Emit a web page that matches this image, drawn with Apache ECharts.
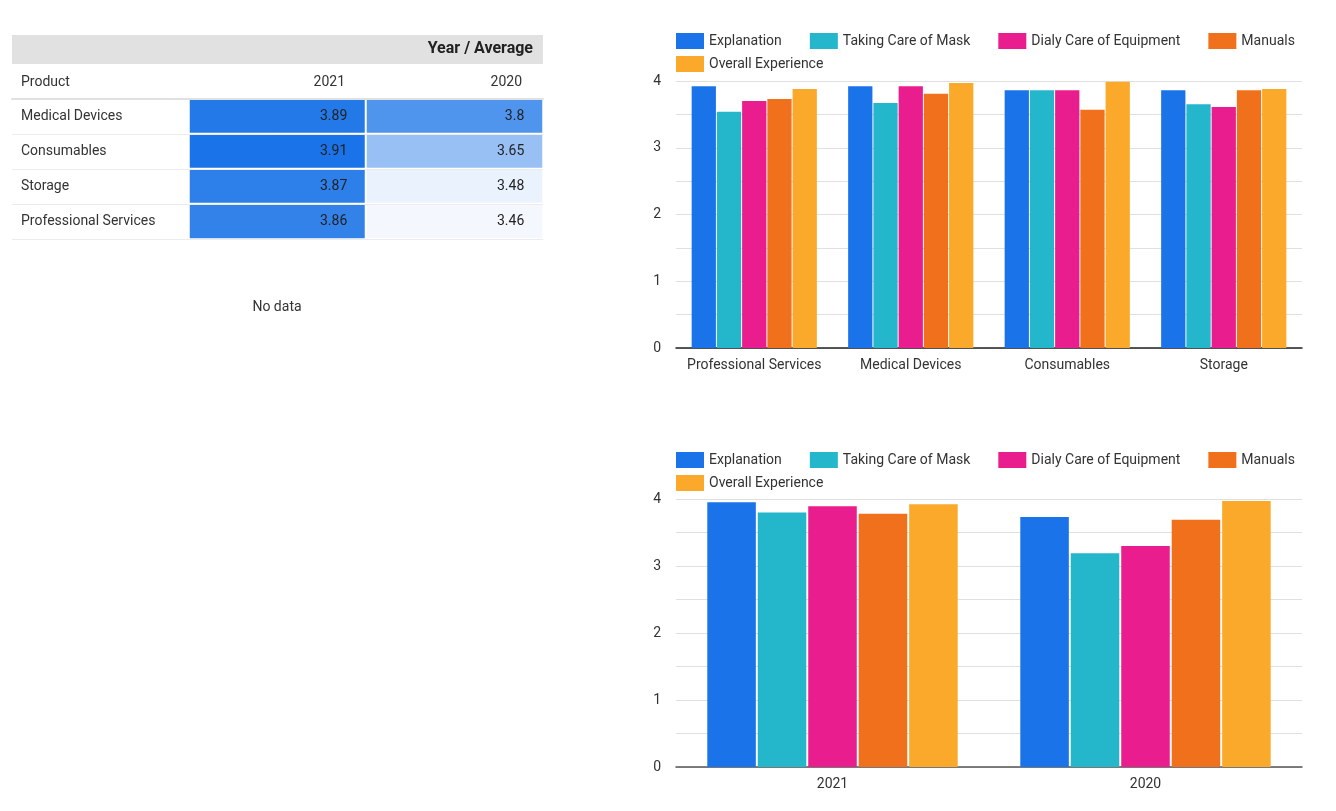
<!DOCTYPE html>
<html>
<head>
<meta charset="utf-8">
<script src="https://cdn.jsdelivr.net/npm/echarts@6/dist/echarts.min.js"></script>
<style>
  html, body { margin: 0; padding: 0; background: #fff; }
  #main { width: 1336px; height: 811px; }
</style>
</head>
<body>
<div id="main"></div>
<script>
// table (Year / Average)
const tableProducts = ['Medical Devices', 'Consumables', 'Storage', 'Professional Services'];
const tableColumns = ['Product', '2021', '2020'];
const avg2021 = [3.89, 3.91, 3.87, 3.86];
const avg2020 = [3.8, 3.65, 3.48, 3.46];

// bar charts
const seriesNames = ['Explanation', 'Taking Care of Mask', 'Dialy Care of Equipment', 'Manuals', 'Overall Experience'];
const seriesColors = ['#1a73e8', '#24b6cb', '#ea1d8f', '#f1701c', '#fba92a'];

const barProducts = ['Professional Services', 'Medical Devices', 'Consumables', 'Storage'];
const explanationByProduct = [3.92, 3.92, 3.86, 3.86];
const maskByProduct = [3.54, 3.67, 3.86, 3.65];
const equipmentByProduct = [3.70, 3.92, 3.86, 3.61];
const manualsByProduct = [3.73, 3.81, 3.57, 3.86];
const overallByProduct = [3.88, 3.97, 3.99, 3.88];

const barYears = ['2021', '2020'];
const explanationByYear = [3.95, 3.73];
const maskByYear = [3.80, 3.19];
const equipmentByYear = [3.89, 3.30];
const manualsByYear = [3.78, 3.69];
const overallByYear = [3.92, 3.97];

const byProduct = [explanationByProduct, maskByProduct, equipmentByProduct, manualsByProduct, overallByProduct];
const byYear = [explanationByYear, maskByYear, equipmentByYear, manualsByYear, overallByYear];

const font = 'Roboto';
const textColor = '#333';

// heatmap cells: [column, row, value]
const heatData = [];
tableProducts.forEach((p, i) => {
  heatData.push([1, i, avg2021[i]]);
  heatData.push([2, i, avg2020[i]]);
});

const barSeries = [];
seriesNames.forEach((name, i) => {
  barSeries.push({
    name: name,
    type: 'bar',
    xAxisIndex: 1,
    yAxisIndex: 1,
    data: byProduct[i],
    barGap: '4%',
    barCategoryGap: '20%',
    itemStyle: { color: seriesColors[i] },
  });
});
seriesNames.forEach((name, i) => {
  barSeries.push({
    name: name,
    type: 'bar',
    xAxisIndex: 2,
    yAxisIndex: 2,
    data: byYear[i],
    barGap: '4%',
    barCategoryGap: '20%',
    itemStyle: { color: seriesColors[i] },
  });
});

const legendBase = {
  left: 676,
  padding: 0,
  itemWidth: 28,
  itemHeight: 16,
  itemGap: 28,
  icon: 'rect',
  textStyle: { color: textColor, fontSize: 14, fontFamily: font },
};

const valueYAxis = (gridIndex) => ({
  type: 'value',
  gridIndex: gridIndex,
  min: 0,
  max: 4,
  interval: 0.5,
  axisLine: { show: false },
  axisTick: { show: false },
  axisLabel: {
    color: textColor,
    fontSize: 14,
    fontFamily: font,
    margin: 15,
    formatter: (v) => (Number.isInteger(v) ? String(v) : ''),
  },
  splitLine: { show: true, lineStyle: { color: '#e0e0e0', width: 1 } },
});

const categoryXAxis = (gridIndex, data, lineColor) => ({
  type: 'category',
  gridIndex: gridIndex,
  data: data,
  axisLine: { show: true, lineStyle: { color: lineColor, width: 1.5 } },
  axisTick: { show: false },
  axisLabel: { interval: 0, color: textColor, fontSize: 14, fontFamily: font, margin: 10 },
});

const chart = echarts.init(document.getElementById('main'));

chart.setOption({
  animation: false,
  textStyle: { fontFamily: font },
  graphic: [
    {
      type: 'rect',
      shape: { x: 12, y: 35, width: 531, height: 29 },
      style: { fill: '#e1e1e1' },
      silent: true,
    },
    {
      type: 'text',
      x: 533,
      y: 49,
      style: {
        text: 'Year / Average',
        font: 'bold 16px Roboto',
        fill: '#212121',
        align: 'right',
        verticalAlign: 'middle',
      },
    },
    {
      type: 'text',
      x: 277,
      y: 307,
      style: {
        text: 'No data',
        font: '14px Roboto',
        fill: textColor,
        align: 'center',
        verticalAlign: 'middle',
      },
    },
  ],
  legend: [
    Object.assign({}, legendBase, { top: 33, data: seriesNames.slice(0, 4) }),
    Object.assign({}, legendBase, { top: 56, data: seriesNames.slice(4) }),
    Object.assign({}, legendBase, { top: 452, data: seriesNames.slice(0, 4) }),
    Object.assign({}, legendBase, { top: 475, data: seriesNames.slice(4) }),
  ],
  grid: [
    { left: 12, top: 99, width: 531, height: 140 },
    { left: 676, top: 81, width: 626, height: 267 },
    { left: 676, top: 499, width: 626, height: 268 },
  ],
  visualMap: {
    show: false,
    seriesIndex: 0,
    min: 3.46,
    max: 3.91,
    inRange: { color: ['#f4f8fe', '#1a73e8'] },
  },
  xAxis: [
    {
      // table header row
      type: 'category',
      gridIndex: 0,
      position: 'top',
      data: tableColumns,
      z: 4,
      axisLine: { show: true, lineStyle: { color: '#e0e0e0', width: 2 } },
      axisTick: { show: false },
      splitLine: { show: false },
      axisLabel: {
        margin: 10,
        formatter: (v, i) => (i === 0 ? '{l|' + v + '}' : '{r|' + v + '}'),
        rich: {
          l: { width: 159, align: 'left', color: textColor, fontSize: 14, fontFamily: font },
          r: { width: 135, align: 'right', color: textColor, fontSize: 14, fontFamily: font },
        },
      },
    },
    categoryXAxis(1, barProducts, '#222'),
    categoryXAxis(2, barYears, '#555'),
  ],
  yAxis: [
    {
      // table rows
      type: 'category',
      gridIndex: 0,
      data: tableProducts,
      inverse: true,
      z: 3,
      axisLine: { show: false },
      axisTick: { show: false },
      axisLabel: {
        inside: true,
        margin: 9,
        color: textColor,
        fontSize: 14,
        fontFamily: font,
      },
      splitLine: { show: true, lineStyle: { color: '#ececec', width: 1 } },
    },
    valueYAxis(1),
    valueYAxis(2),
  ],
  series: [
    {
      type: 'heatmap',
      xAxisIndex: 0,
      yAxisIndex: 0,
      data: heatData,
      itemStyle: { borderColor: '#fff', borderWidth: 2 },
      label: {
        show: true,
        position: 'insideRight',
        distance: 20,
        color: '#222',
        fontSize: 14,
        fontFamily: font,
        formatter: (p) => String(p.value[2]),
      },
    },
  ].concat(barSeries),
});
</script>
</body>
</html>
